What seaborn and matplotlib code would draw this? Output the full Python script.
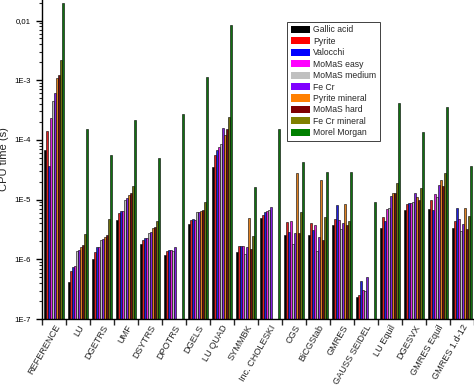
import numpy as np
import pandas as pd
import matplotlib
matplotlib.use("Agg")
import matplotlib.pyplot as plt
from matplotlib.patches import Patch
from matplotlib.ticker import FixedLocator, LogLocator, NullFormatter
import seaborn as sns

nan = np.nan

categories = ["REFERENCE", "LU", "DGETRS", "UMF", "DSYTRS", "DPOTRS", "DGELS",
              "LU QUAD", "SYMMBK", "Inc. CHOLESKI", "CGS", "BiCGStab", "GMRES",
              "GAUSS SEIDEL", "LU Equil", "DGESVX", "GMRES Equil", "GMRES 1.d-12"]

series = ["Gallic acid", "Pyrite", "Valocchi", "MoMaS easy", "MoMaS medium",
          "Fe Cr", "Pyrite mineral", "MoMaS hard", "Fe Cr mineral", "Morel Morgan"]

colors = ["#000000", "#FF0000", "#0000FF", "#FF00FF", "#C0C0C0",
          "#8000FF", "#FF8000", "#800000", "#808000", "#008000"]

gallic_acid = [6.8e-5, 4.2e-7, 1.0e-6, 4.6e-6, 1.8e-6, 1.2e-6, 3.9e-6, 3.5e-5, 1.3e-6,
               5.0e-6, 2.6e-6, 2.6e-6, 3.7e-6, 2.3e-7, 3.4e-6, 6.7e-6, 7.0e-6, 3.4e-6]
pyrite = [1.4e-4, 6.3e-7, 1.3e-6, 5.9e-6, 2.1e-6, 1.4e-6, 4.5e-6, 5.5e-5, 1.7e-6,
          5.6e-6, 4.2e-6, 4.0e-6, 4.7e-6, 2.5e-7, 5.2e-6, 8.4e-6, 1.0e-5, 4.4e-6]
valocchi = [3.6e-5, 7.5e-7, 1.6e-6, 6.5e-6, 2.3e-6, 1.45e-6, 4.7e-6, 6.8e-5, 1.7e-6,
            6.1e-6, 2.9e-6, 3.1e-6, 8.0e-6, 4.4e-7, 4.4e-6, 8.7e-6, 6.7e-6, 7.1e-6]
momas_easy = [2.3e-4, 7.8e-7, 1.6e-6, 6.5e-6, 2.3e-6, 1.45e-6, 4.5e-6, 7.7e-5, 1.65e-6,
              6.5e-6, 4.3e-6, 3.8e-6, 4.6e-6, 3.1e-7, 7.0e-6, 8.9e-6, 1.23e-5, 4.8e-6]
momas_medium = [4.5e-4, 1.4e-6, 2.1e-6, 1.0e-5, 2.8e-6, 1.4e-6, 6.2e-6, 8.5e-5, 1.25e-6,
                6.8e-6, 1.8e-6, 1.4e-6, 3.2e-6, 3.0e-7, 7.2e-6, 9.1e-6, 1.1e-5, 3.0e-6]
fe_cr = [6.2e-4, 1.45e-6, 2.2e-6, 1.05e-5, 2.9e-6, 1.6e-6, 6.3e-6, 1.6e-4, 1.6e-6,
         7.6e-6, 2.8e-6, 2.4e-6, 4.1e-6, 5.0e-7, 1.17e-5, 1.3e-5, 1.75e-5, 3.9e-6]
pyrite_mineral = [1.1e-3, 1.6e-6, 2.4e-6, 1.2e-5, 3.3e-6, nan, 6.5e-6, 1.2e-4, 5.0e-6,
                  nan, 2.75e-5, 2.1e-5, 8.3e-6, nan, 1.3e-5, 1.1e-5, 2.1e-5, 7.3e-6]
momas_hard = [1.23e-3, 1.75e-6, 2.6e-6, 1.3e-5, 3.5e-6, nan, 6.6e-6, 1.55e-4, 1.5e-6,
              nan, 2.8e-6, 2.1e-6, 3.8e-6, nan, 1.3e-5, 1.0e-5, 1.7e-5, 3.2e-6]
fe_cr_mineral = [2.2e-3, 2.7e-6, 4.7e-6, 1.7e-5, 4.4e-6, nan, 9.0e-6, 2.45e-4, 2.5e-6,
                 nan, 6.3e-6, 5.2e-6, 4.4e-6, nan, 1.9e-5, 1.55e-5, 2.8e-5, 5.4e-6]
morel_morgan = [2.0e-2, 1.5e-4, 5.5e-5, 2.15e-4, 4.9e-5, 2.75e-4, 1.12e-3, 8.3e-3, 1.65e-5,
                1.55e-4, 4.2e-5, 2.9e-5, 2.9e-5, 9.2e-6, 4.2e-4, 1.37e-4, 3.6e-4, 3.7e-5]

ytick_values = [1e-7, 1e-6, 1e-5, 1e-4, 1e-3, 1e-2]
ytick_labels = ["1E-7", "1E-6", "1E-5", "1E-4", "1E-3", "0,01"]

values = [gallic_acid, pyrite, valocchi, momas_easy, momas_medium, fe_cr,
          pyrite_mineral, momas_hard, fe_cr_mineral, morel_morgan]
rows = []
for s, vals in zip(series, values):
    for c, v in zip(categories, vals):
        rows.append({"method": c, "series": s, "time": v})
df = pd.DataFrame(rows)

sns.set_style("ticks")
plt.rcParams["font.family"] = ["Liberation Sans", "DejaVu Sans"]

fig = plt.figure(figsize=(4.74, 3.87), dpi=100)
ax = fig.add_axes([42 / 474, 68 / 387, 432 / 474, 319 / 387])

sns.barplot(data=df, x="method", y="time", hue="series", order=categories,
            hue_order=series, palette=colors, width=0.86, errorbar=None,
            edgecolor="black", linewidth=0.4, legend=False, ax=ax)

ax.set_yscale("log")
ax.set_ylim(1e-7, 10 ** (-7 + 319 / 59.7))
ax.set_xlim(-0.5, len(categories) - 0.5)

ax.yaxis.set_major_locator(FixedLocator(ytick_values))
ax.set_yticklabels(ytick_labels, fontsize=5.6)
ax.yaxis.set_minor_locator(LogLocator(base=10, subs=np.arange(2, 10)))
ax.yaxis.set_minor_formatter(NullFormatter())
ax.tick_params(axis="y", which="major", length=4, width=1, direction="out", pad=4, colors="black")
ax.tick_params(axis="y", which="minor", length=2, width=0.8, direction="out")

ax.set_xticks(range(len(categories)))
ax.set_xticklabels(categories, rotation=60, ha="right", rotation_mode="anchor", fontsize=6.6)
ax.set_xticks(np.arange(-0.5, len(categories), 1.0), minor=True)
ax.tick_params(axis="x", which="major", length=0, pad=3)
ax.tick_params(axis="x", which="minor", length=4, width=1, direction="out")

ax.set_xlabel("")
ax.set_ylabel("CPU time (s)", fontsize=8)
ax.yaxis.set_label_coords(-0.077, 0.5)

for sp in ["top", "right"]:
    ax.spines[sp].set_visible(False)
for sp in ["left", "bottom"]:
    ax.spines[sp].set_linewidth(1.0)
    ax.spines[sp].set_color("black")

handles = [Patch(facecolor=c, edgecolor="none", label=s) for s, c in zip(series, colors)]
leg = ax.legend(handles=handles, loc="upper right", bbox_to_anchor=(0.782, 0.931),
                fontsize=6.2, handlelength=2.2, handleheight=0.9, handletextpad=0.4,
                labelspacing=0.28, borderpad=0.4, borderaxespad=0, frameon=True,
                fancybox=False, framealpha=1)
leg.get_frame().set_edgecolor("#404040")
leg.get_frame().set_linewidth(0.7)

fig.savefig("out.png", dpi=100)
